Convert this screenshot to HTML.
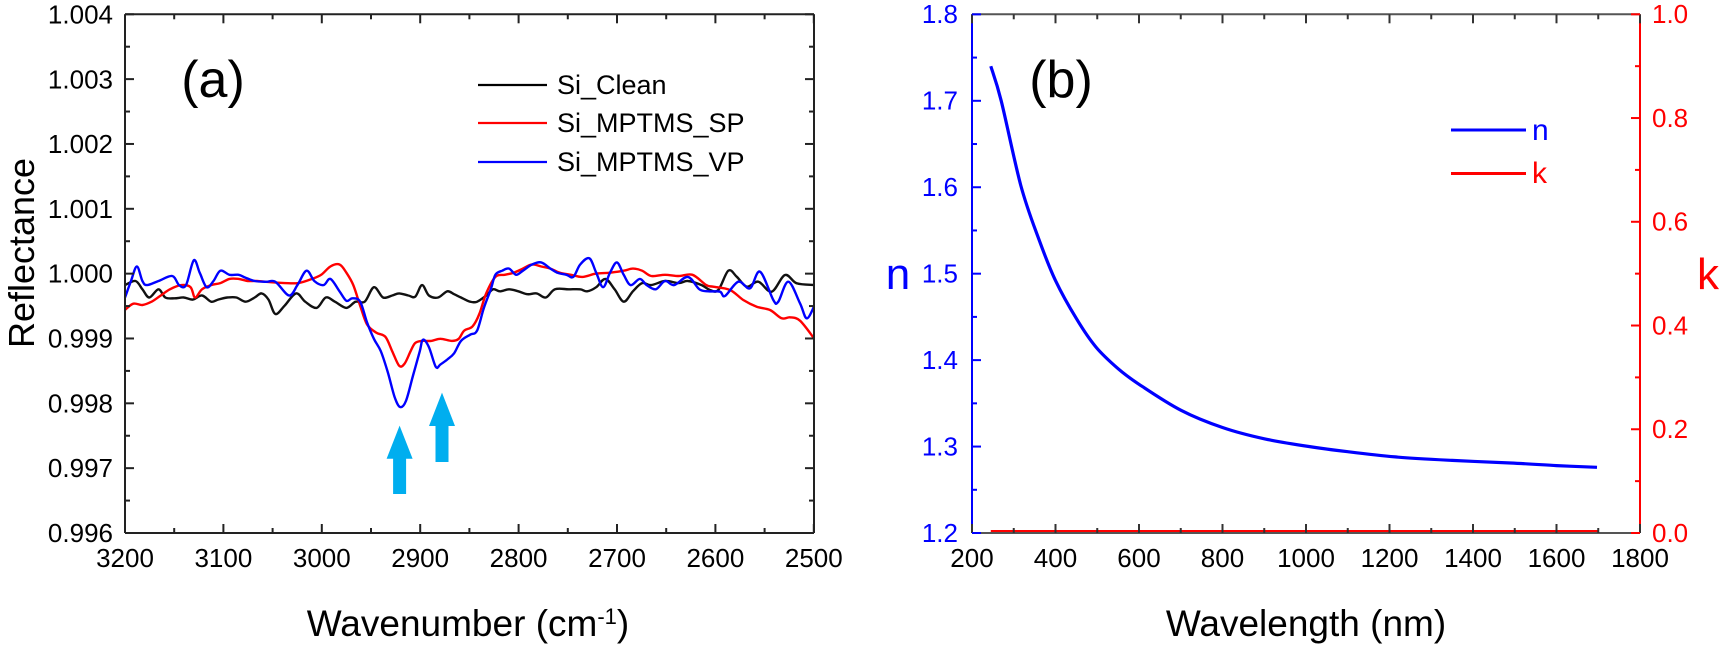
<!DOCTYPE html>
<html><head><meta charset="utf-8"><style>
html,body{margin:0;padding:0;background:#fff;width:1720px;height:648px;overflow:hidden}
svg{display:block}
text{font-family:"Liberation Sans",Arial,sans-serif}
</style></head><body>
<svg id="s" width="1720" height="648" viewBox="0 0 1720 648" xmlns="http://www.w3.org/2000/svg">
<g id="g"></g>
<text x="213" y="97" font-size="52" text-anchor="middle" fill="#000">(a)</text>
<g font-size="26" fill="#000" text-anchor="end">
<text x="113" y="23.5">1.004</text><text x="113" y="88.3">1.003</text><text x="113" y="153.1">1.002</text>
<text x="113" y="217.9">1.001</text><text x="113" y="282.7">1.000</text><text x="113" y="347.5">0.999</text>
<text x="113" y="412.3">0.998</text><text x="113" y="477.1">0.997</text><text x="113" y="541.9">0.996</text>
</g>
<g font-size="26" fill="#000" text-anchor="middle">
<text x="125" y="567">3200</text><text x="223.4" y="567">3100</text><text x="321.8" y="567">3000</text>
<text x="420.2" y="567">2900</text><text x="518.6" y="567">2800</text><text x="617" y="567">2700</text>
<text x="715.4" y="567">2600</text><text x="813.8" y="567">2500</text>
</g>
<text x="468" y="636" font-size="37" text-anchor="middle" fill="#000">Wavenumber (cm<tspan baseline-shift="super" font-size="22">-1</tspan>)</text>
<text transform="translate(34,253) rotate(-90)" font-size="36" text-anchor="middle" fill="#000">Reflectance</text>
<g stroke-width="2.2">
<line x1="478" y1="85" x2="547" y2="85" stroke="#000"/>
<line x1="478" y1="123" x2="547" y2="123" stroke="#f00"/>
<line x1="478" y1="162" x2="547" y2="162" stroke="#00f"/>
</g>
<g font-size="27" fill="#000">
<text x="557" y="94">Si_Clean</text><text x="557" y="132">Si_MPTMS_SP</text><text x="557" y="171">Si_MPTMS_VP</text>
</g>
<text x="1061" y="97" font-size="52" text-anchor="middle" fill="#000">(b)</text>
<g font-size="26" fill="#00f" text-anchor="end">
<text x="958" y="542">1.2</text><text x="958" y="455.5">1.3</text><text x="958" y="369">1.4</text>
<text x="958" y="282.4">1.5</text><text x="958" y="195.9">1.6</text><text x="958" y="109.4">1.7</text><text x="958" y="23">1.8</text>
</g>
<g font-size="26" fill="#f00">
<text x="1652" y="542">0.0</text><text x="1652" y="438.2">0.2</text><text x="1652" y="334.5">0.4</text>
<text x="1652" y="230.7">0.6</text><text x="1652" y="126.9">0.8</text><text x="1652" y="23">1.0</text>
</g>
<g font-size="26" fill="#000" text-anchor="middle">
<text x="972" y="567">200</text><text x="1055.5" y="567">400</text><text x="1139" y="567">600</text>
<text x="1222.5" y="567">800</text><text x="1306" y="567">1000</text><text x="1389.5" y="567">1200</text>
<text x="1473" y="567">1400</text><text x="1556.5" y="567">1600</text><text x="1640" y="567">1800</text>
</g>
<text x="1306" y="636" font-size="37" text-anchor="middle" fill="#000">Wavelength (nm)</text>
<text x="898" y="289" font-size="44" text-anchor="middle" fill="#00f">n</text>
<text x="1708" y="289" font-size="44" text-anchor="middle" fill="#f00">k</text>
<line x1="1451" y1="130" x2="1526" y2="130" stroke="#00f" stroke-width="3"/>
<line x1="1451" y1="173.5" x2="1526" y2="173.5" stroke="#f00" stroke-width="3"/>
<text x="1532" y="140" font-size="30" fill="#00f">n</text>
<text x="1532" y="183" font-size="30" fill="#f00">k</text>
</svg>
<script>
(function(){
var g=document.getElementById('g'),h='';
function L(x1,y1,x2,y2,c,w){h+='<line x1="'+x1+'" y1="'+y1+'" x2="'+x2+'" y2="'+y2+'" stroke="'+c+'" stroke-width="'+(w||2)+'"/>';}
function path(pts,c,w){
  var d='M'+pts[0][0].toFixed(1)+','+pts[0][1].toFixed(1);
  for(var i=0;i<pts.length-1;i++){
    var p0=pts[Math.max(0,i-1)],p1=pts[i],p2=pts[i+1],p3=pts[Math.min(pts.length-1,i+2)];
    var c1x=p1[0]+(p2[0]-p0[0])/6,c1y=p1[1]+(p2[1]-p0[1])/6,c2x=p2[0]-(p3[0]-p1[0])/6,c2y=p2[1]-(p3[1]-p1[1])/6;
    d+=' C'+c1x.toFixed(1)+','+c1y.toFixed(1)+' '+c2x.toFixed(1)+','+c2y.toFixed(1)+' '+p2[0].toFixed(1)+','+p2[1].toFixed(1);
  }
  h+='<path d="'+d+'" fill="none" stroke="'+c+'" stroke-width="'+w+'" stroke-linejoin="round"/>';
}
function conv(a,extra){var r=[];for(var i=0;i<a.length;i+=2){r.push([125+(a[i]-272)*0.4584,a[i+1]/2.42]);}
 for(var j=0;j<extra.length;j+=2){r.push([Math.min(814,700+extra[j]/3),220+extra[j+1]/3]);}return r;}
var blue=[272,720,285,680,298,645,310,680,320,690,345,680,375,668,390,690,405,690,422,630,435,660,450,695,465,680,480,655,500,665,520,665,535,672,555,680,580,682,600,682,630,715,648,690,668,655,685,680,705,690,720,675,740,705,755,728,768,722,785,730,800,780,815,820,830,850,845,900,860,960,872,985,885,970,900,910,915,850,922,822,935,840,950,888,960,882,975,870,990,855,1005,825,1025,810,1040,800,1055,745,1070,700,1080,665,1095,655,1110,650,1125,665,1140,655,1160,640,1180,635,1200,650,1215,660,1235,665,1250,670,1265,640,1285,625,1300,660,1315,695,1330,660,1345,635,1360,665,1375,690,1395,675,1410,690,1430,700,1450,680,1470,690,1500,670,1525,700,1545,705];
var blueX=[60,215,75,228,115,185,150,205,180,155,220,240,235,245,265,185,300,250,320,295,342,260];
var red=[272,750,290,735,310,738,330,730,350,715,370,700,395,690,415,695,425,720,440,700,460,690,480,685,500,675,520,675,540,680,560,680,590,683,620,685,650,685,680,675,700,665,720,645,740,640,755,660,770,690,785,740,800,785,820,805,840,815,855,850,870,885,882,880,895,850,905,830,920,825,940,825,960,820,985,825,1000,820,1012,800,1030,790,1045,760,1060,710,1080,670,1100,665,1120,660,1140,650,1160,640,1180,645,1200,650,1220,660,1245,665,1270,670,1300,662,1330,660,1360,655,1380,650,1400,655,1420,668,1450,665,1480,668,1510,665,1540,690];
var redX=[40,200,90,210,130,240,170,260,210,270,245,295,270,292,300,302,342,355];
var black=[272,690,295,680,310,700,325,720,345,700,360,720,380,722,400,720,420,725,440,715,460,730,475,725,495,720,515,720,535,730,555,720,570,710,585,725,600,760,620,740,645,710,665,730,690,745,710,720,730,730,755,745,775,730,795,730,815,695,835,720,855,715,870,710,890,715,905,718,920,690,935,715,955,720,975,705,990,712,1005,720,1025,730,1040,730,1060,715,1075,700,1090,705,1110,700,1130,705,1150,712,1170,710,1190,720,1210,700,1240,700,1265,700,1280,705,1300,695,1320,675,1340,700,1360,730,1380,705,1400,685,1420,690,1450,680,1480,685,1500,680,1530,690];
var blackX=[30,210,55,210,85,152,110,170,140,200,175,185,215,215,255,165,290,190,342,195];
var ax0=125,ax1=814,ay0=14.3,ay1=533;
path(conv(black,blackX),'#111',2.4);
path(conv(red,redX),'#f00',2.4);
path(conv(blue,blueX),'#00f',2.4);
L(ax0,ay0,ax1,ay0,'#222');L(ax0,ay1,ax1,ay1,'#222');L(ax0,ay0,ax0,ay1,'#222');L(ax1,ay0,ax1,ay1,'#222');
for(var i=0;i<=14;i++){var x=ax0+i*49.2,len=i%2?5:9;L(x,ay1,x,ay1-len,'#222');L(x,ay0,x,ay0+len,'#222');}
for(var i=0;i<=16;i++){var y=ay1-i*32.42,len=i%2?5:9;L(ax0,y,ax0+len,y,'#222');L(ax1,y,ax1-len,y,'#222');}
function arrow(cx,tip,base,bot){h+='<polygon points="'+(cx-13)+','+base+' '+cx+','+tip+' '+(cx+13)+','+base+' '+(cx+6.5)+','+base+' '+(cx+6.5)+','+bot+' '+(cx-6.5)+','+bot+' '+(cx-6.5)+','+base+'" fill="#00aeef"/>';}
arrow(399.6,425.6,458.7,494);arrow(442,392.6,426,462);
var bx0=972,bx1=1640,by0=14.3,by1=533;
function X(l){return bx0+(l-200)*0.4175;}
function Yn(n){return by1-(n-1.2)*864.5;}
var np=[[245,1.740],[270,1.700],[317,1.602],[360,1.54],[400,1.492],[450,1.448],[497,1.415],[550,1.39],[600,1.372],[700,1.342],[800,1.322],[900,1.309],[1007,1.300],[1100,1.294],[1214,1.288],[1350,1.284],[1490,1.281],[1600,1.278],[1697,1.276]];
L(X(245),by1-1.5,X(1700),by1-1.5,'#f00',3);
path(np.map(function(p){return [X(p[0]),Yn(p[1])];}),'#00f',3.2);
L(bx0,by0,bx1,by0,'#555');L(bx0,by1,bx1,by1,'#555');
L(bx0,by0,bx0,by1,'#00f');L(bx1,by0,bx1,by1,'#f00');
for(var i=0;i<=16;i++){var x=bx0+i*41.75,len=i%2?5:9;L(x,by1,x,by1-len,'#333');L(x,by0,x,by0+len,'#333');}
for(var i=0;i<=12;i++){var y=by1-i*43.22,len=i%2?5:9;L(bx0,y,bx0+len,y,'#00f');}
for(var i=0;i<=10;i++){var y=by1-i*51.87,len=i%2?5:9;L(bx1,y,bx1-len,y,'#f00');}
g.innerHTML=h;
})();
</script>
</body></html>
